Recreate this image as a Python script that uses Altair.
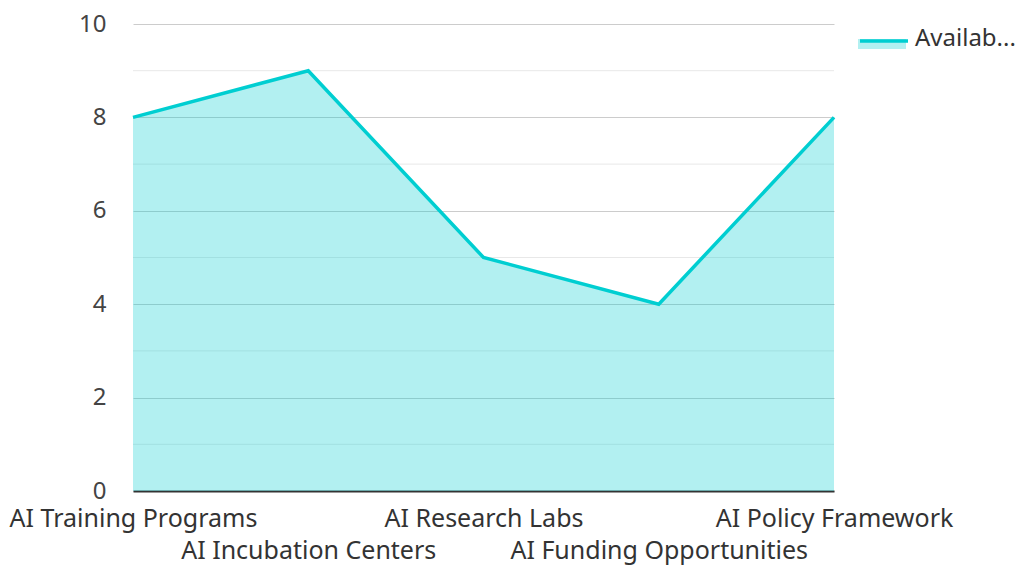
import altair as alt
import pandas as pd

categories = ["AI Training Programs", "AI Incubation Centers", "AI Research Labs",
              "AI Funding Opportunities", "AI Policy Framework"]
values = [8, 9, 5, 4, 8]
series_name = "Availability"
major_ticks = [0, 2, 4, 6, 8, 10]
minor_ticks = [1, 3, 5, 7, 9]
second_row = ["AI Incubation Centers", "AI Funding Opportunities"]

df = pd.DataFrame({"category": categories, "value": values,
                   "series": series_name, "series2": series_name})
minor_df = pd.DataFrame({"v": minor_ticks})

CYAN = "#00CED1"
FONT = "Noto Sans"

x_enc = alt.X("category:N", sort=None,
              scale=alt.Scale(type="point", padding=0),
              axis=alt.Axis(title=None, labelAngle=0, ticks=False,
                            domainColor="#333333", domainWidth=2,
                            labelFont=FONT, labelFontSize=25, labelColor="#333333",
                            labelPadding=15, labelLineHeight=32, labelOverlap=False,
                            labelLimit=0,
                            labelExpr="indexof(" + str(second_row) + ", datum.value) >= 0 ? ['', datum.label] : datum.label"))
y_scale = alt.Scale(domain=[0, 10], nice=False)
y_axis = alt.Axis(title=None, values=major_ticks, ticks=False, domain=False,
                  gridColor="#cccccc", labelFont=FONT, labelFontSize=24,
                  labelColor="#444444", labelPadding=27)

minor = alt.Chart(minor_df).mark_rule(color="#e8e8e8", strokeWidth=1).encode(
    y=alt.Y("v:Q", scale=y_scale, axis=y_axis),
    x=alt.value(0), x2=alt.value(701))

area = alt.Chart(df).mark_area(fillOpacity=0.3).encode(
    x=x_enc,
    y=alt.Y("value:Q", scale=y_scale),
    fill=alt.Fill("series:N", scale=alt.Scale(range=[CYAN]),
                  legend=alt.Legend(title=None, orient="none", legendX=725, legendY=-9,
                                    symbolType="M-1,0H1V0.42H-1Z", symbolSize=2304,
                                    symbolOpacity=0.3, symbolStrokeWidth=0,
                                    labelFont=FONT, labelFontSize=24, labelColor="#333333",
                                    labelExpr="slice(datum.label, 0, 7) + '...'",
                                    labelLimit=0, padding=0, labelOffset=9)))

line = alt.Chart(df).mark_line(color=CYAN, strokeWidth=3.5).encode(
    x=x_enc,
    y=alt.Y("value:Q", scale=y_scale),
    stroke=alt.Stroke("series2:N", scale=alt.Scale(range=[CYAN]),
                      legend=alt.Legend(title=None, orient="none", legendX=725, legendY=-9,
                                        symbolType="M-1,0H1", symbolSize=2304,
                                        symbolStrokeWidth=3.5, labelExpr="''",
                                        labelFontSize=24, padding=0, labelOffset=9)))

chart = alt.layer(minor, area, line).properties(
    width=701, height=467,
    autosize=alt.AutoSizeParams(type="none"),
    padding={"left": 125, "top": 16, "right": 182, "bottom": 76},
).configure_view(stroke=None)

chart.save("out.html", embed_options={"renderer": "svg", "actions": False})
